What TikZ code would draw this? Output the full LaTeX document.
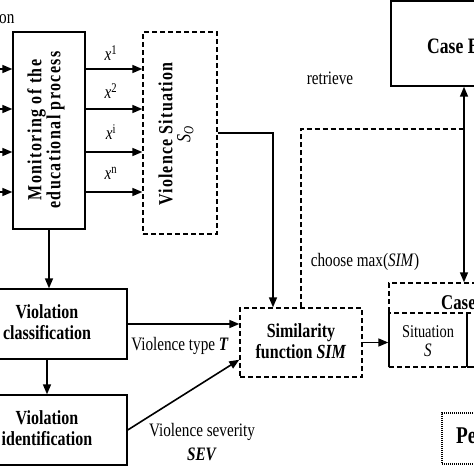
\documentclass[tikz,border=0pt]{standalone}
\usepackage{fontspec}
\setmainfont{Liberation Serif}[FakeStretch=0.8]
\usetikzlibrary{arrows.meta,calc}
\begin{document}
\begin{tikzpicture}[x=1pt,y=-1pt,
  sbox/.style={draw, line width=1.4pt, inner sep=0pt},
  dbox/.style={draw, line width=1.4pt, dash pattern=on 5pt off 3pt, inner sep=0pt},
  pbox/.style={draw, line width=1.2pt, dash pattern=on 1pt off 1pt, inner sep=0pt},
  arr/.style={line width=1.6pt, -{Triangle[length=10pt,width=8pt]}},
  dline/.style={line width=1.6pt, dash pattern=on 5pt off 3pt},
  lbl/.style={font=\fontsize{19}{20}\selectfont, inner sep=0pt},
  blbl/.style={font=\fontsize{20}{21}\selectfont\bfseries, align=center, inner sep=0pt},
  rlbl/.style={font=\fontsize{20}{19}\selectfont\bfseries\addfontfeature{LetterSpace=7}, align=center, inner sep=0pt, rotate=90},
]
\useasboundingbox (0,0) rectangle (474,474);
\clip (0,0) rectangle (474,474);

% boxes
\node[sbox, minimum width=72pt, minimum height=197pt] (mon) at (49,130.5) {};
\node[dbox, minimum width=74pt, minimum height=202pt] (vs) at (180,133) {};
\node[sbox, minimum width=160pt, minimum height=70pt] (class) at (47,324) {};
\node[sbox, minimum width=160pt, minimum height=70pt] (ident) at (47,430) {};
\node[dbox, minimum width=122pt, minimum height=69pt] (sim) at (301,342.5) {};
\node[sbox, minimum width=146pt, minimum height=85pt] (cb) at (464,43.5) {};
\node[dbox, minimum width=150pt, minimum height=84pt] (case) at (464,325) {};
\node[dbox, minimum width=78pt, minimum height=54pt] (sit) at (428,340) {};
\node[dbox, minimum width=83pt, minimum height=54pt] (other) at (508.5,340) {};
\node[pbox, minimum width=118pt, minimum height=51pt] (pe) at (501,438.5) {};

% texts in boxes
\node[rlbl] (montext) at (46,130) {Monitoring of the\\educational process};
\node[rlbl, font=\fontsize{20}{18}\selectfont\bfseries\addfontfeature{LetterSpace=6}] (vstext) at (176,134) {Violence Situation\\\mdseries\addfontfeature{LetterSpace=0}\textit{S}\textsubscript{\textit{O}}};
\node[blbl] (classtext) at (47,322) {Violation\\classification};
\node[blbl] (identtext) at (47,428) {Violation\\identification};
\node[blbl] (simtext) at (301,341) {Similarity\\function \textit{SIM}};
\node[anchor=west, inner sep=0pt, font=\fontsize{22}{24}\selectfont\bfseries] (cbtext) at (427,46) {Case B};
\node[anchor=west, inner sep=0pt, font=\fontsize{21}{24}\selectfont\bfseries] (casetext) at (441,303) {Case};
\node[align=center, inner sep=0pt, font=\fontsize{18}{19}\selectfont] (sittext) at (428,341) {Situation\\\fontsize{19}{19}\selectfont\textit{S}};
\node[anchor=west, inner sep=0pt, font=\fontsize{24}{26}\selectfont\bfseries] (petext) at (456,436) {Pe};

% free labels
\node[lbl, anchor=west] (ontext) at (-1,19) {on};
\node[lbl] (x1) at (111,53) {\textit{x}\textsuperscript{1}};
\node[lbl] (x2) at (111,91) {\textit{x}\textsuperscript{2}};
\node[lbl] (xi) at (111,132) {\textit{x}\textsuperscript{i}};
\node[lbl] (xn) at (111,173) {\textit{x}\textsuperscript{n}};
\node[lbl] (retr) at (330,78) {retrieve};
\node[lbl] (choose) at (365,262) {choose max(\textit{SIM})};
\node[lbl] (vtype) at (180,346) {Violence type \textbf{\textit{T}}};
\node[lbl] (vsev) at (202,432) {Violence severity};
\node[lbl] (sev) at (202,454) {\textbf{\textit{SEV}}};

% input arrows
\foreach \yy [count=\k] in {69,109,152,192}{
  \coordinate (in\k) at (-20,\yy);
  \draw[arr] (in\k) -- (mon.west |- in\k);
  \draw[arr] (mon.east |- in\k) -- (vs.west |- in\k);
}

% connectors
\draw[arr] (vs.east) -| ($(sim.north)+(-28,0)$);
\draw[arr] (mon.south) -- (mon.south |- class.north);
\draw[arr] (class.south) -- (ident.north);
\draw[arr] (class.east) -- (sim.west |- class.east);
\draw[arr] (ident.east) -- ($(sim.south west)+(0,-18)$);
\draw[arr] (sim.east) -- (sit.west |- sim.east);
\coordinate (j) at (464,129);
\draw[dline] (sim.north) |- (j);
\draw[arr] (j) -- (cb.south);
\draw[arr] (j) -- (case.north);
\end{tikzpicture}
\end{document}
